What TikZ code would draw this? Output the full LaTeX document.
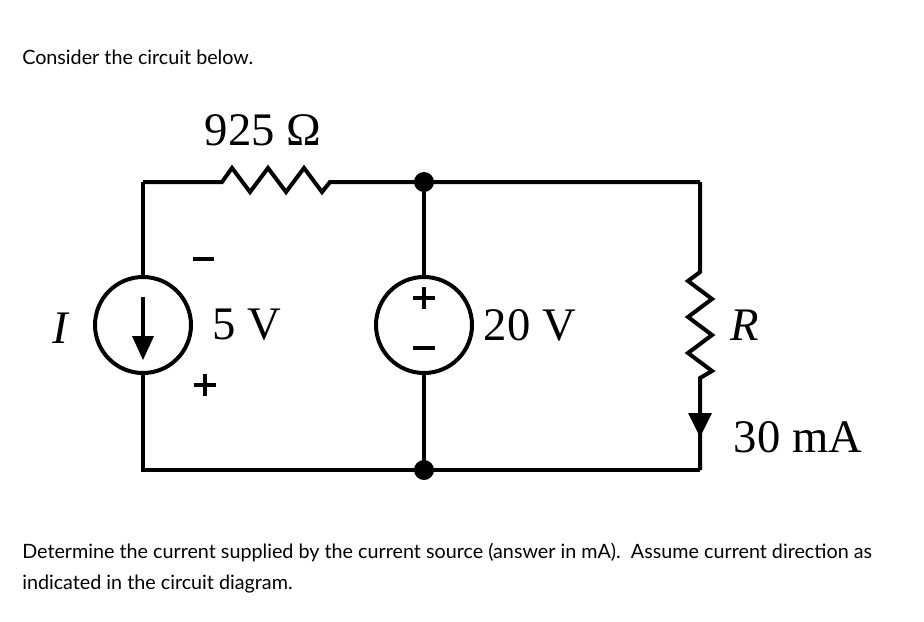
\documentclass[tikz,border=0pt]{standalone}
\usepackage{fontspec}
\setmainfont{Liberation Serif}
\newfontfamily\lato{Lato}
\begin{document}
\begin{tikzpicture}[x=0.75pt,y=-0.75pt,
  wire/.style={line width=3pt},
  lbl/.style={font=\fontsize{35}{35}\selectfont,inner sep=0},
  txt/.style={font=\lato\fontsize{14.8}{17}\selectfont,anchor=west,inner sep=0}]
\useasboundingbox (0,0) rectangle (924,621);
\node[txt] (t1) at (22,57) {Consider the circuit below.};
\node[txt] (t2) at (22,553) {Determine the current supplied by the current source (answer in mA).\ \ Assume current direction as};
\node[txt] (t3) at (22,584) {indicated in the circuit diagram.};
\coordinate (tl) at (143,182); \coordinate (tm) at (424,182); \coordinate (tr) at (700,182);
\coordinate (bl) at (143,470); \coordinate (bm) at (424,470); \coordinate (br) at (700,470);
\node[circle,draw,line width=3pt,minimum size=96*0.75pt,inner sep=0] (cs) at (143,325) {};
\node[circle,draw,line width=3pt,minimum size=96*0.75pt,inner sep=0] (vs) at (424,325) {};
\draw[wire] (tl) -- (222,182) -- (232,168) -- (250,192) -- (268,168) -- (286,192) -- (304,168) -- (322,192) -- (330,182) -- (tr);
\draw[wire] (tl) -- (cs.north);
\draw[wire] (cs.south) -- (bl) -- (br);
\draw[wire] (tm) -- (vs.north); \draw[wire] (vs.south) -- (bm);
\draw[wire] (tr) -- (700,272) -- (688,281) -- (712,299) -- (688,317) -- (712,335) -- (688,353) -- (712,371) -- (700,378) -- (br);
\fill (tm) circle (10); \fill (bm) circle (10);
\draw[line width=3pt] (143,297) -- (143,340);
\fill (132,336) -- (154,336) -- (143,360) -- cycle;
\fill (688,413) -- (712,413) -- (700,437) -- cycle;
\draw[line width=2.5pt] (413,298) -- (435,298) (424,287) -- (424,309);
\draw[line width=2.5pt] (413,348) -- (435,348);
\node[lbl] (r1) at (263,130) {925 Ω};
\node[lbl] (iL) at (60,328) {\itshape I};
\draw[line width=2.5pt] (193,259) -- (214,259);
\node[lbl] (v5) at (247,325) {5 V};
\draw[line width=2.5pt] (194,385) -- (216,385) (205,374) -- (205,396);
\node[lbl] (v20) at (530,325) {20 V};
\node[lbl] (rL) at (745,325) {\itshape R};
\node[lbl] (ma) at (798,437) {30 mA};
\end{tikzpicture}
\end{document}
